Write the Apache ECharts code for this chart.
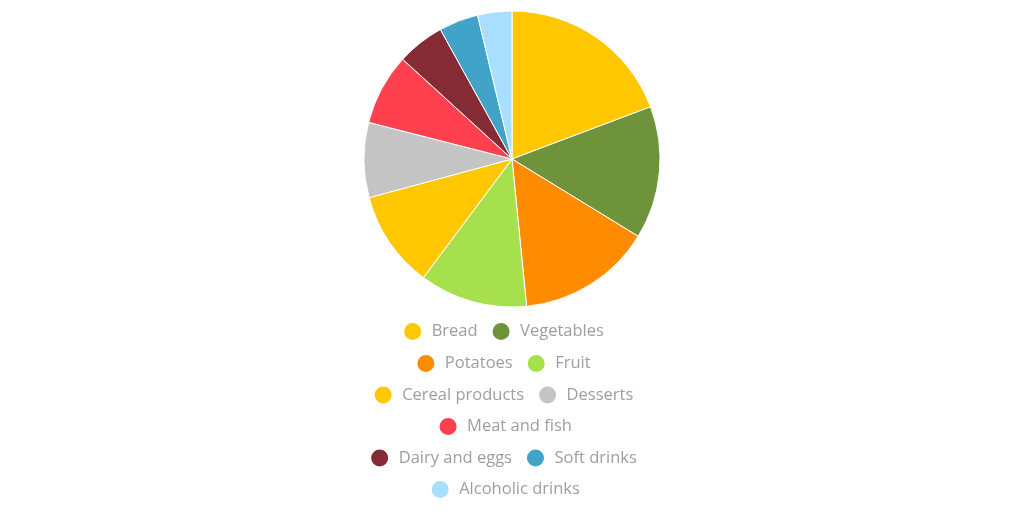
<!DOCTYPE html>
<html><head><meta charset="utf-8">
<script src="https://cdn.jsdelivr.net/npm/echarts@6/dist/echarts.min.js"></script>
<style>html,body{margin:0;padding:0;background:#fff}#c{width:1024px;height:512px}</style>
</head><body><div id="c"></div>
<script>
const categories = ['Bread','Vegetables','Potatoes','Fruit','Cereal products','Desserts','Meat and fish','Dairy and eggs','Soft drinks','Alcoholic drinks'];
const values = [19.3,14.5,14.7,11.8,10.6,8.2,7.8,5.2,4.3,3.75];
const colors = ['#FFC700','#6E933B','#FF8C00','#A6E04D','#FFC700','#C4C4C4','#FF404F','#852B35','#41A3C7','#A8DFFF'];
const legendRows = [['Bread','Vegetables'],['Potatoes','Fruit'],['Cereal products','Desserts'],['Meat and fish'],['Dairy and eggs','Soft drinks'],['Alcoholic drinks']];
const rowTops = [316,348,379.5,411,442.5,474];
const fsize = 16.5;
const font = fsize + 'px "Open Sans"';
const ctx = document.createElement('canvas').getContext('2d');
ctx.font = font;
const iw = 28, gap = 13, cx = 506.5;
function rowLeft(r){
  let w = 0;
  r.forEach((n,i)=>{ w += iw + 5 + ctx.measureText(n).width + (i>0?gap:0); });
  return cx - w/2 - 5;
}
const chart = echarts.init(document.getElementById('c'));
chart.setOption({
  animation:false,
  color: colors,
  legend: legendRows.map((r,i)=>({
    data:r, left:rowLeft(r), top:rowTops[i], icon:'circle', itemWidth:iw, itemHeight:19, itemGap:gap,
    textStyle:{color:'#9E9E9E', fontSize:fsize, fontFamily:'Open Sans'}
  })),
  series:[{
    type:'pie', center:[512,159], radius:148, startAngle:90, clockwise:true,
    label:{show:false}, labelLine:{show:false},
    itemStyle:{borderColor:'#fff', borderWidth:1},
    emphasis:{disabled:true},
    data: categories.map((c,i)=>({name:c, value:values[i]}))
  }]
});
</script></body></html>
